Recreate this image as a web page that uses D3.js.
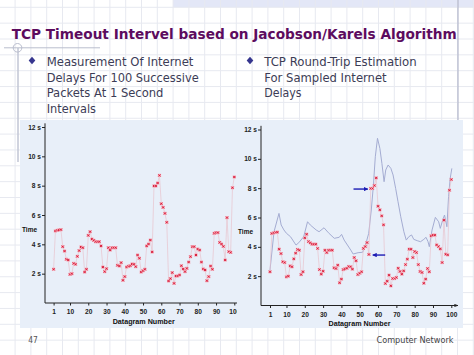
<!DOCTYPE html>
<html><head><meta charset="utf-8">
<script src="https://cdn.jsdelivr.net/npm/d3@7"></script>
<style>html,body{margin:0;padding:0;background:#fff;}svg{display:block;}</style>
</head><body>
<script>
// ---------- data ----------
const titleText = "TCP Timeout Intervel based on Jacobson/Karels Algorithm";
const leftBullet = ["Measurement Of Internet", "Delays For 100 Successive", "Packets At 1 Second", "Intervals"];
const rightBullet = ["TCP Round-Trip Estimation", "For Sampled Internet", "Delays"];
const leftBulletWidths = [146.7, 152, 116.7, 49.3];
const rightBulletWidths = [152.3, 122.3, 37.3];

// measured delay (seconds) for datagrams 1..100
const delays = [2.30, 4.91, 4.95, 4.98, 5.00, 3.84, 3.54, 2.98, 2.93, 1.95,
  2.00, 2.70, 2.64, 3.18, 3.57, 3.82, 3.77, 2.11, 2.30, 4.61,
  4.86, 4.36, 4.27, 4.18, 4.18, 4.18, 3.89, 2.45, 2.14, 2.34,
  3.77, 3.61, 3.77, 3.77, 3.77, 2.57, 2.52, 2.75, 1.55, 1.80,
  2.45, 2.50, 2.54, 2.66, 2.64, 2.48, 3.27, 3.05, 2.11, 2.20,
  2.30, 3.89, 4.02, 4.29, 3.48, 7.98, 7.98, 8.18, 8.70, 6.77,
  6.52, 6.11, 5.50, 1.50, 1.66, 2.07, 1.34, 1.84, 1.84, 1.91,
  2.54, 2.32, 2.14, 2.36, 2.79, 3.16, 3.84, 3.84, 3.27, 3.68,
  3.61, 2.79, 2.32, 2.25, 1.52, 1.80, 2.52, 2.30, 4.75, 4.80,
  4.80, 4.13, 4.02, 3.86, 2.93, 5.82, 3.50, 3.45, 7.86, 8.59];

// estimated round trip / timeout curve (right chart)
const estDatagram = [1, 3.2, 5.9, 7.1, 8.6, 10, 12.2, 15.2, 16.7, 19.4,
  21.5, 23, 26.2, 27.8, 30.5, 32.9, 36.1, 38.8, 40.1, 41.5,
  45.1, 46.4, 49.1, 51.6, 53.4, 54.9, 56.3, 57.4, 58.5, 59.7,
  61, 62.1, 63.3, 64.2, 65.5, 67, 68.2, 69.6, 70.9, 72.4,
  74.1, 75.4, 76.8, 78.3, 79.5, 81.4, 83.2, 85, 86.2, 87.3,
  88, 89.5, 91.3, 93.1, 94, 95.3, 96.3, 97.6, 98.5, 99.4, 100.3];
const estSeconds = [2.42, 5.03, 6.28, 5.49, 5.15, 4.92, 4.69, 4.12, 4.28, 4.69,
  5.71, 5.49, 5.15, 5.03, 5.30, 4.96, 4.58, 4.65, 4.85, 4.46,
  3.78, 3.51, 3.60, 3.63, 4.24, 4.92, 6.51, 8.10, 10.14, 11.40,
  10.71, 9.69, 8.44, 9.24, 9.58, 9.35, 8.9, 7.99, 7.08, 6.05,
  5.03, 4.46, 4.69, 4.81, 4.51, 4.42, 4.35, 4.51, 4.65, 4.35,
  4.01, 5.15, 6.01, 5.71, 5.26, 5.83, 6.17, 5.37, 7.42, 8.67, 9.35];

// arrows on the right chart: [fromDatagram, toDatagram, seconds]
const arrowFrom = [46.6, 63.9];
const arrowTo = [54.4, 57.1];
const arrowSec = [7.94, 3.44];

const xTicks = [1, 10, 20, 30, 40, 50, 60, 70, 80, 90, 100];
const yTicks = [2, 4, 6, 8, 10, 12];
const yTickLabels = ["2 s", "4 s", "6 s", "8 s", "10 s", "12 s"];

// ---------- drawing ----------
const W = 474, H = 355;
const svg = d3.select("body").append("svg").attr("width", W).attr("height", H);
const defs = svg.append("defs");

svg.append("rect").attr("width", W).attr("height", H).attr("fill", "#ffffff");
// top-right band
svg.append("rect").attr("x", 173).attr("y", 0).attr("width", W - 173).attr("height", 7.3).attr("fill", "#e3e7f7");
// grid
const grid = svg.append("g").attr("stroke", "#e7e9f0").attr("stroke-width", 1);
for (let gx = 15.1; gx < W; gx += 15.8) grid.append("line").attr("x1", gx).attr("x2", gx).attr("y1", 0).attr("y2", H);
for (let gy = 7.3; gy < H; gy += 15.85) grid.append("line").attr("x1", 0).attr("x2", W).attr("y1", gy).attr("y2", gy);

// decoration lines
svg.append("line").attr("x1", 458).attr("x2", 458).attr("y1", 0).attr("y2", 122).attr("stroke", "#b4b8cc").attr("stroke-width", 1.2);
svg.append("line").attr("x1", 18).attr("x2", 18).attr("y1", 48).attr("y2", 162).attr("stroke", "#c2c6d4").attr("stroke-width", 1.5);
svg.append("line").attr("x1", 4).attr("x2", 100).attr("y1", 47.8).attr("y2", 47.8).attr("stroke", "#babece").attr("stroke-width", 1);
svg.append("circle").attr("cx", 17.5).attr("cy", 47.8).attr("r", 4.3).attr("fill", "none").attr("stroke", "#babece").attr("stroke-width", 1);

// title
svg.append("text").attr("x", 11.7).attr("y", 38.5)
  .attr("font-family", "DejaVu Sans Condensed, DejaVu Sans, sans-serif").attr("font-weight", "bold")
  .attr("font-stretch", "condensed")
  .attr("font-size", 14.5).attr("fill", "#5c0b5e")
  .attr("textLength", 445).attr("lengthAdjust", "spacingAndGlyphs").text(titleText);

// bullets
function diamond(cx, cy) {
  svg.append("path").attr("d", `M${cx},${cy - 3.8}L${cx + 3.3},${cy}L${cx},${cy + 3.8}L${cx - 3.3},${cy}Z`)
    .attr("fill", "#35358e");
}
diamond(32, 60.5); diamond(250, 60.5);
const bulletBase = [66, 81.7, 97.3, 113];
function bulletText(lines, widths, x) {
  lines.forEach((t, i) => {
    svg.append("text").attr("x", x).attr("y", bulletBase[i])
      .attr("font-family", "DejaVu Sans Condensed, DejaVu Sans, sans-serif")
      .attr("font-stretch", "condensed")
      .attr("font-size", 11.6).attr("fill", "#3c3c56")
      .attr("textLength", widths[i]).attr("lengthAdjust", "spacingAndGlyphs").text(t);
  });
}
bulletText(leftBullet, leftBulletWidths, 46.7);
bulletText(rightBullet, rightBulletWidths, 264.3);

// chart panel
svg.append("rect").attr("x", 20).attr("y", 120).attr("width", 443).attr("height", 208).attr("fill", "#e8eff9");

// arrow markers
defs.append("marker").attr("id", "axArrow").attr("viewBox", "0 0 10 10").attr("refX", 9).attr("refY", 5)
  .attr("markerWidth", 4).attr("markerHeight", 4).attr("orient", "auto")
  .append("path").attr("d", "M0,1L10,5L0,9Z").attr("fill", "#222");
defs.append("marker").attr("id", "blueArrow").attr("viewBox", "0 0 10 10").attr("refX", 9).attr("refY", 5)
  .attr("markerWidth", 3.2).attr("markerHeight", 3.2).attr("orient", "auto")
  .append("path").attr("d", "M0,0L10,5L0,10Z").attr("fill", "#1c1cb4");
defs.append("clipPath").attr("id", "leftClip").append("rect").attr("x", 0).attr("y", 110).attr("width", 237).attr("height", 230);

const samples = delays.map((v, i) => ({ d: i + 1, v }));

function drawChart(g, cfg) {
  const x = d3.scaleLinear().domain([1, 100]).range([cfg.x1, cfg.x100]);
  const y = d3.scaleLinear().domain([0, 12]).range([cfg.y0, cfg.y12]);

  // y axis
  const ya = g.append("g").attr("transform", `translate(${cfg.ax},0)`)
    .call(d3.axisLeft(y).tickValues(yTicks).tickFormat((d, i) => yTickLabels[i]).tickSize(3).tickSizeOuter(0).tickPadding(1));
  ya.select(".domain").remove();
  ya.selectAll("line").attr("stroke", "#222");
  ya.selectAll("text").attr("font-family", "Liberation Sans, Arial, sans-serif").attr("font-weight", "bold")
    .attr("font-size", 6.6).attr("fill", "#222");
  g.append("line").attr("x1", cfg.ax).attr("x2", cfg.ax).attr("y1", y(0)).attr("y2", y(12.25))
    .attr("stroke", "#222").attr("stroke-width", 1);

  // x axis
  const xa = g.append("g").attr("transform", `translate(0,${y(0)})`)
    .call(d3.axisBottom(x).tickValues(xTicks).tickSize(2.5).tickSizeOuter(0).tickPadding(4));
  xa.select(".domain").remove();
  xa.selectAll("line").attr("stroke", "#222");
  xa.selectAll("text").attr("font-family", "Liberation Sans, Arial, sans-serif").attr("font-weight", "bold")
    .attr("font-size", 6.6).attr("fill", "#222");
  const xl = g.append("line").attr("x1", cfg.ax).attr("x2", cfg.xEnd).attr("y1", y(0)).attr("y2", y(0))
    .attr("stroke", "#222").attr("stroke-width", 1);
  if (cfg.arrow) xl.attr("marker-end", "url(#axArrow)");

  g.append("text").attr("x", cfg.timeX).attr("y", cfg.timeY).attr("font-family", "Liberation Sans, Arial, sans-serif")
    .attr("font-weight", "bold").attr("font-size", 7.6).attr("fill", "#111")
    .attr("textLength", 15).attr("lengthAdjust", "spacingAndGlyphs").text("Time");
  g.append("text").attr("x", cfg.labelX).attr("y", cfg.labelY).attr("text-anchor", "middle")
    .attr("font-family", "Liberation Sans, Arial, sans-serif").attr("font-weight", "bold")
    .attr("font-size", 7.4).attr("fill", "#111")
    .attr("textLength", 62).attr("lengthAdjust", "spacingAndGlyphs").text("Datagram Number");

  // estimate curve
  if (cfg.estimate) {
    const est = estDatagram.map((d, i) => ({ d, v: estSeconds[i] }));
    g.append("path").datum(est)
      .attr("d", d3.line().x(p => x(p.d)).y(p => y(p.v)))
      .attr("fill", "none").attr("stroke", "#a4acd2").attr("stroke-width", 1);
  }

  // connecting line
  g.append("path").datum(samples)
    .attr("d", d3.line().x(p => x(p.d)).y(p => y(p.v)))
    .attr("fill", "none").attr("stroke", "#e8c3cd").attr("stroke-width", 0.7);

  // markers
  const m = g.append("g").selectAll("g").data(samples).join("g")
    .attr("transform", p => `translate(${x(p.d)},${y(p.v)})`);
  m.append("rect").attr("x", -1.6).attr("y", -1.6).attr("width", 3.2).attr("height", 3.2).attr("fill", "#f5a9b7");
  m.append("path").attr("d", "M-1,-1L1,1M-1,1L1,-1").attr("stroke", "#d81f3d").attr("stroke-width", 1);

  if (cfg.estimate) {
    arrowFrom.forEach((f, i) => {
      g.append("line").attr("x1", x(f)).attr("x2", x(arrowTo[i])).attr("y1", y(arrowSec[i])).attr("y2", y(arrowSec[i]))
        .attr("stroke", "#1c1cb4").attr("stroke-width", 1.4).attr("marker-end", "url(#blueArrow)");
    });
  }
}

const leftG = svg.append("g").attr("clip-path", "url(#leftClip)");
drawChart(leftG, { x1: 53.6, x100: 234.3, y0: 303, y12: 127, ax: 45, xEnd: 245, arrow: false,
  timeX: 22, timeY: 232, labelX: 143.7, labelY: 324 });
const rightG = svg.append("g");
drawChart(rightG, { x1: 270, x100: 451.3, y0: 305.5, y12: 129.5, ax: 261, xEnd: 458, arrow: true,
  timeX: 238, timeY: 233.5, labelX: 359.5, labelY: 325.5, estimate: true });

// footer
svg.append("text").attr("x", 28.3).attr("y", 342.5).attr("font-family", "DejaVu Sans Condensed, DejaVu Sans, sans-serif")
  .attr("font-stretch", "condensed")
  .attr("font-size", 8.4).attr("fill", "#555").text("47");
svg.append("text").attr("x", 376.5).attr("y", 342.5).attr("font-family", "DejaVu Sans Condensed, DejaVu Sans, sans-serif")
  .attr("font-stretch", "condensed")
  .attr("font-size", 8.8).attr("fill", "#444")
  .attr("textLength", 77).attr("lengthAdjust", "spacingAndGlyphs").text("Computer Network");
</script>
</body></html>
